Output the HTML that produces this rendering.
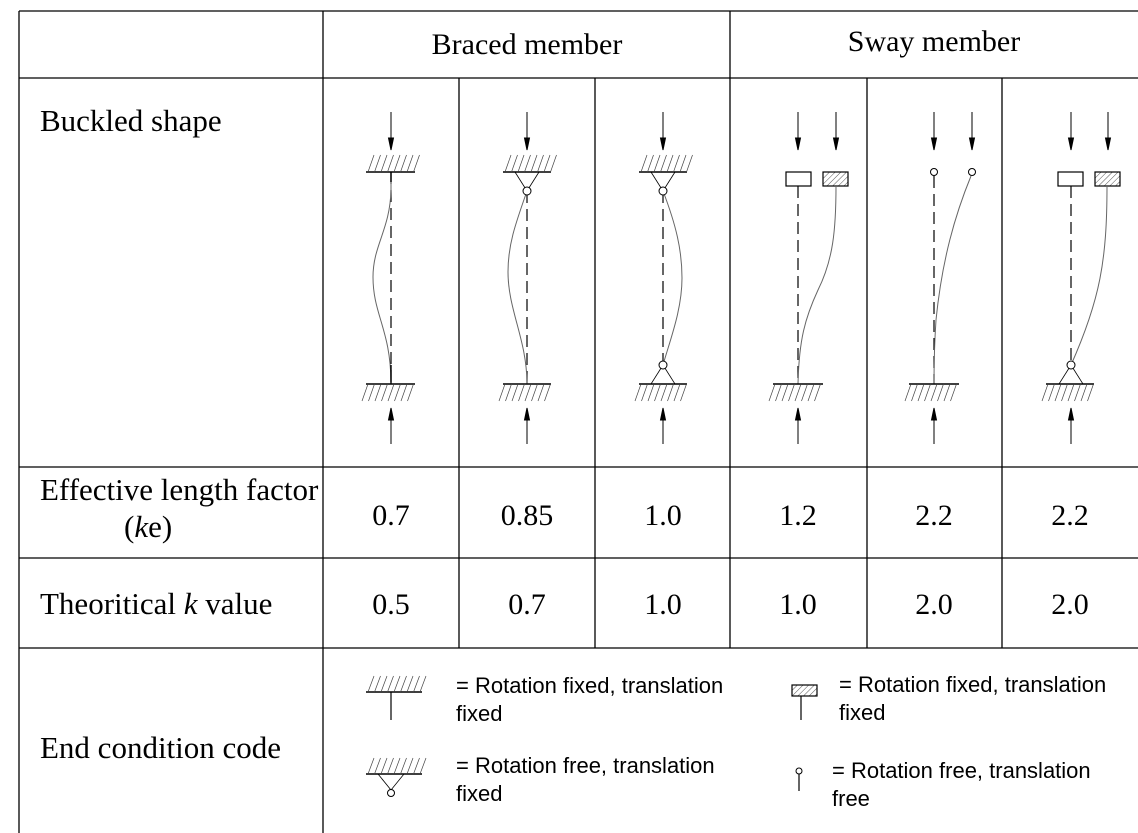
<!DOCTYPE html>
<html><head><meta charset="utf-8"><style>
html,body{margin:0;padding:0;background:#fff;}
svg{display:block;}
.t{font-family:"Liberation Serif",serif;fill:#000;}
.a{font-family:"Liberation Sans",sans-serif;fill:#000;font-size:22px;}
</style></head><body>
<svg id="s" width="1138" height="833" viewBox="0 0 1138 833" xmlns="http://www.w3.org/2000/svg">
<defs>
<pattern id="hp" width="4" height="4" patternUnits="userSpaceOnUse" patternTransform="rotate(45)">
<line x1="0" y1="0" x2="0" y2="4" stroke="#555" stroke-width="1"/>
</pattern>
</defs>
<g stroke="#000" stroke-width="1.3" fill="none">
<line x1="19" y1="11" x2="1138" y2="11"/>
<line x1="19" y1="78" x2="1138" y2="78"/>
<line x1="19" y1="467" x2="1138" y2="467"/>
<line x1="19" y1="558" x2="1138" y2="558"/>
<line x1="19" y1="648" x2="1138" y2="648"/>
<line x1="19" y1="11" x2="19" y2="833"/>
<line x1="323" y1="11" x2="323" y2="833"/>
<line x1="730" y1="11" x2="730" y2="648"/>
<line x1="459" y1="78" x2="459" y2="648"/>
<line x1="595" y1="78" x2="595" y2="648"/>
<line x1="867" y1="78" x2="867" y2="648"/>
<line x1="1002" y1="78" x2="1002" y2="648"/>
</g>
<g id="d" stroke="#000" fill="none" stroke-width="1"></g>
<text class="t" x="527" y="54" font-size="30" text-anchor="middle">Braced member</text>
<text class="t" x="934" y="51" font-size="30" text-anchor="middle">Sway member</text>
<text class="t" x="40" y="131" font-size="31">Buckled shape</text>
<text class="t" x="40" y="500" font-size="31">Effective length factor</text>
<text class="t" x="124" y="537" font-size="31">(<tspan font-style="italic">k</tspan>e)</text>
<text class="t" x="40" y="614" font-size="31">Theoritical <tspan font-style="italic">k</tspan> value</text>
<text class="t" x="40" y="758" font-size="31">End condition code</text>
<g class="t" font-size="30" text-anchor="middle">
<text x="391" y="525">0.7</text><text x="527" y="525">0.85</text><text x="663" y="525">1.0</text>
<text x="798" y="525">1.2</text><text x="934" y="525">2.2</text><text x="1070" y="525">2.2</text>
<text x="391" y="614">0.5</text><text x="527" y="614">0.7</text><text x="663" y="614">1.0</text>
<text x="798" y="614">1.0</text><text x="934" y="614">2.0</text><text x="1070" y="614">2.0</text>
</g>
<text class="a" x="456" y="693">= Rotation fixed, translation</text>
<text class="a" x="456" y="721">fixed</text>
<text class="a" x="456" y="773">= Rotation free, translation</text>
<text class="a" x="456" y="801">fixed</text>
<text class="a" x="839" y="692">= Rotation fixed, translation</text>
<text class="a" x="839" y="720">fixed</text>
<text class="a" x="832" y="778">= Rotation free, translation</text>
<text class="a" x="832" y="806">free</text>
</svg>
<script>
var g=document.getElementById('d'),NS='http://www.w3.org/2000/svg';
function el(t,a){var e=document.createElementNS(NS,t);for(var k in a)e.setAttribute(k,a[k]);g.appendChild(e);return e;}
function L(x1,y1,x2,y2,w,c,da){var o={x1:x1,y1:y1,x2:x2,y2:y2,'stroke-width':w||1};if(c)o.stroke=c;if(da)o['stroke-dasharray']=da;return el('line',o);}
function arrowDown(x,y1,y2){L(x,y1,x,y2-10);el('path',{d:'M'+(x-2.5)+','+(y2-12)+' L'+x+','+y2+' L'+(x+2.5)+','+(y2-12)+'Z',fill:'#000'});}
function arrowUp(x,y1,y2){L(x,y1+10,x,y2);el('path',{d:'M'+(x-2.5)+','+(y1+12)+' L'+x+','+y1+' L'+(x+2.5)+','+(y1+12)+'Z',fill:'#000'});}
function sup(x1,x2,y,above,h){h=h||17;L(x1,y,x2,y,1.4);
 for(var xx=x1+2;xx<=x2;xx+=6.5){ if(above)L(xx,y,xx+6,y-h,0.7,'#444'); else L(xx-6,y+h,xx,y,0.7,'#444');}}
function pin(x,y,r){el('circle',{cx:x,cy:y,r:r||4,fill:'#fff'});}
function rect(x,y,w,h,hat){el('rect',{x:x,y:y,width:w,height:h,fill:hat?'url(#hp)':'#fff','stroke-width':1.2});}
var DA='12,6';
arrowDown(391,112,150);sup(366,415,172,true);L(391,172,391,384,1.2,null,DA);
el('path',{d:'M391,172 L391,190 C390,230 373,245 373,277 C373,315 391,330 391,384','stroke':'#666'});
L(391,365,391,384,1.4);L(391,172,391,182,1.4);
sup(366,415,384,false);arrowUp(391,408,444);
arrowDown(527,112,150);sup(503,551,172,true);L(527,191,527,384,1.2,null,DA);
L(515,172,527,191,0.8);L(539,172,527,191,0.8);
el('path',{d:'M527,191 C515,225 508,245 508,272 C508,310 527,340 527,384','stroke':'#666'});pin(527,191);
sup(503,551,384,false);arrowUp(527,408,444);
arrowDown(663,112,150);sup(639,687,172,true);L(663,191,663,365,1.2,null,DA);
L(651,172,663,191,0.8);L(675,172,663,191,0.8);
el('path',{d:'M663,191 C676,225 682,250 682,278 C682,310 670,340 663,365','stroke':'#666'});pin(663,191);
L(651,384,663,365,0.8);L(675,384,663,365,0.8);pin(663,365);
sup(639,687,384,false);arrowUp(663,408,444);
arrowDown(798,112,150);arrowDown(836,112,150);rect(786,172,25,14,false);rect(823,172,25,14,true);
L(798,186,798,384,1.2,null,DA);
el('path',{d:'M836,186 C836,230 833,260 818,290 C805,318 799,340 798,384','stroke':'#666'});
sup(773,823,384,false);arrowUp(798,408,444);
arrowDown(934,112,150);arrowDown(972,112,150);L(934,176,934,384,1.2,null,DA);
el('path',{d:'M971,176 C955,215 942,260 936,320 C934,350 934,370 934,384','stroke':'#666'});
pin(934,172,3.5);pin(972,172,3.5);
sup(909,959,384,false);arrowUp(934,408,444);
arrowDown(1071,112,150);arrowDown(1108,112,150);rect(1058,172,25,14,false);rect(1095,172,25,14,true);
L(1071,186,1071,365,1.2,null,DA);
el('path',{d:'M1107,186 C1107,260 1100,300 1071,365','stroke':'#666'});
L(1059,384,1071,365,0.8);L(1083,384,1071,365,0.8);pin(1071,365);
sup(1046,1094,384,false);arrowUp(1071,408,444);
sup(366,422,692,true,16);L(391,692,391,720,1.2);
sup(366,422,774,true,16);L(378,774,391,790,0.8);L(404,774,391,790,0.8);pin(391,793,3.5);
rect(792,685,25,11,true);L(801,696,801,720,1.2);
L(799,774,799,791,1.2);pin(799,771,3);
</script>
</body></html>
